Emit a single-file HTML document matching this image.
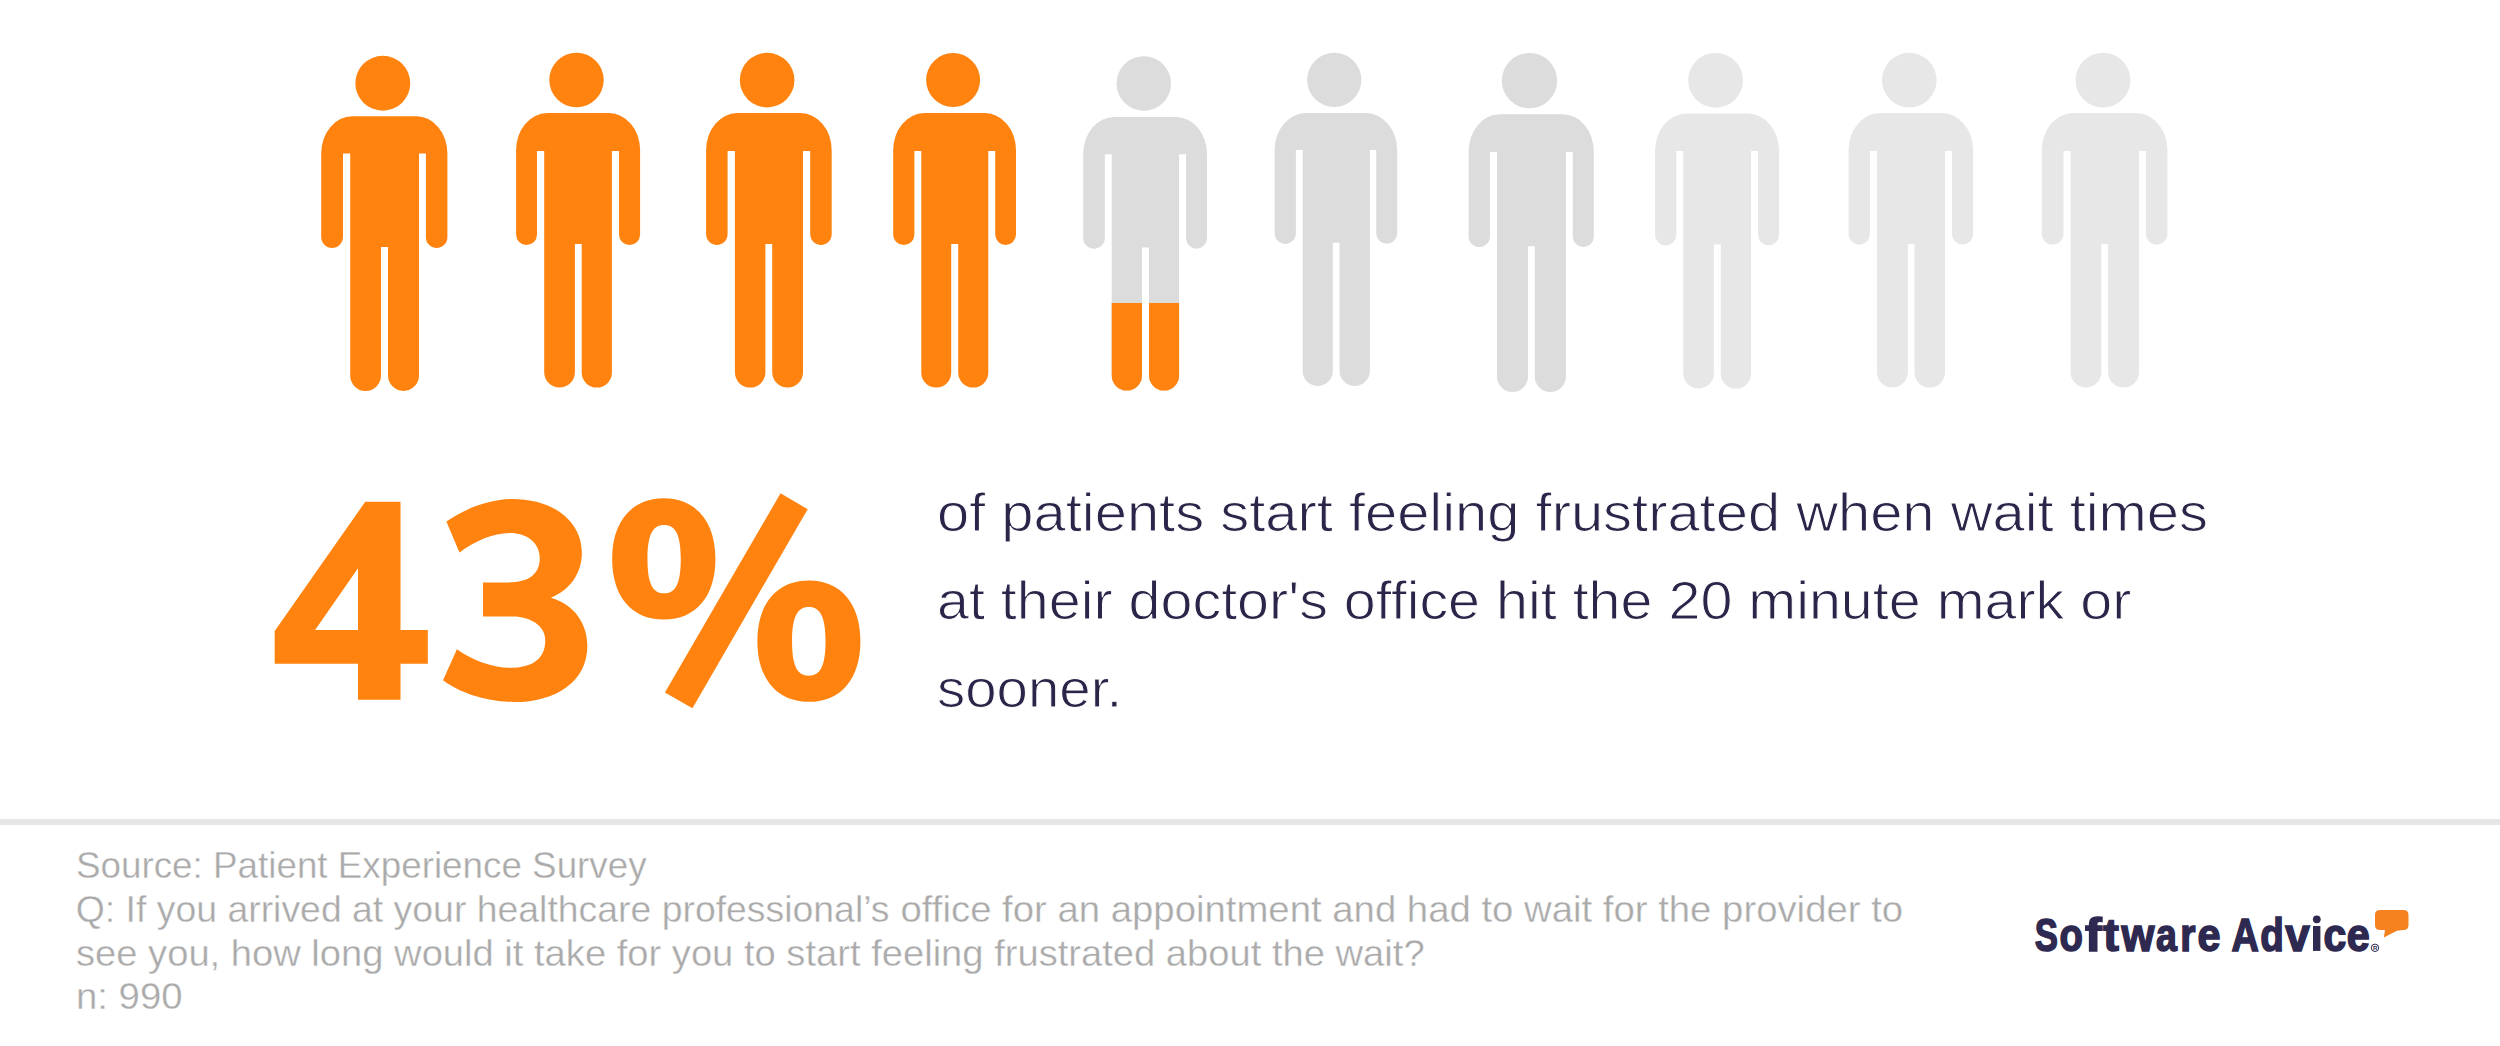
<!DOCTYPE html>
<html><head><meta charset="utf-8"><title>43% of patients</title>
<style>
html,body{margin:0;padding:0;background:#fff;width:2500px;height:1046px;overflow:hidden}
svg{display:block;position:absolute;left:0;top:0}
.m{font-family:"Liberation Sans",sans-serif;font-size:54.5px;fill:#2a2549;stroke:#fff;stroke-width:1px}
.s{font-family:"Liberation Sans",sans-serif;font-size:37.2px;fill:#aaaaaa;stroke:#fff;stroke-width:0.35px}
.logo{font-family:"Liberation Sans",sans-serif;font-weight:bold;font-size:46px;fill:#2d2950;stroke:#2d2950;stroke-width:1.6px}
</style></head><body>
<svg width="2500" height="1046" viewBox="0 0 2500 1046">
<defs><clipPath id="legclip"><rect x="1000" y="303.1" width="300" height="200"/></clipPath></defs>
<g fill="#ff830e"><circle cx="382.8" cy="83.25" r="27.42"/><path d="M321.2,153.3A31,37 0 0 1 352.2,116.3L416.4,116.3A31,37 0 0 1 447.4,153.3L447.4,237.15A10.75,10.75 0 0 1 425.9,237.15L425.9,153.5L419,153.5L419,375.4A15.5,15.5 0 0 1 388,375.4L388,246.9L381,246.9L381,375.5A15.4,15.4 0 0 1 350.2,375.5L350.2,153.5L343,153.5L343,237A10.9,10.9 0 0 1 321.2,237Z"/></g><g fill="#ff830e"><circle cx="576.5" cy="80" r="27.2"/><path d="M516.1,150.1A31,37 0 0 1 547.1,113.1L609.1,113.1A31,37 0 0 1 640.1,150.1L640.1,234.45A10.55,10.55 0 0 1 619,234.45L619,150.9L611.9,150.9L611.9,372.5A15.1,15.1 0 0 1 581.7,372.5L581.7,244L574.9,244L574.9,372.25A15.35,15.35 0 0 1 544.2,372.25L544.2,150.9L537,150.9L537,234.55A10.45,10.45 0 0 1 516.1,234.55Z"/></g><g fill="#ff830e"><circle cx="767.15" cy="80.15" r="27.3"/><path d="M706.1,150.1A31,37 0 0 1 737.1,113.1L800.7,113.1A31,37 0 0 1 831.7,150.1L831.7,234.25A10.75,10.75 0 0 1 810.2,234.25L810.2,150.9L803,150.9L803,372.2A15.4,15.4 0 0 1 772.2,372.2L772.2,244L765.4,244L765.4,372.35A15.25,15.25 0 0 1 734.9,372.35L734.9,150.9L727.6,150.9L727.6,234.25A10.75,10.75 0 0 1 706.1,234.25Z"/></g><g fill="#ff830e"><circle cx="953.1" cy="80" r="27"/><path d="M893.2,150.1A31,37 0 0 1 924.2,113.1L985,113.1A31,37 0 0 1 1016,150.1L1016,234.6A10.4,10.4 0 0 1 995.2,234.6L995.2,150.9L988.3,150.9L988.3,372.55A15.05,15.05 0 0 1 958.2,372.55L958.2,244L951.2,244L951.2,372.65A14.95,14.95 0 0 1 921.3,372.65L921.3,150.9L914.4,150.9L914.4,234.4A10.6,10.6 0 0 1 893.2,234.4Z"/></g><g fill="#dcdcdc"><circle cx="1143.8" cy="83.5" r="27.25"/><path d="M1083.2,153.9A31,37 0 0 1 1114.2,116.9L1176,116.9A31,37 0 0 1 1207,153.9L1207,238.2A10.5,10.5 0 0 1 1186,238.2L1186,154.2L1179.1,154.2L1179.1,375.55A15.05,15.05 0 0 1 1149,375.55L1149,247.6L1142,247.6L1142,375.45A15.15,15.15 0 0 1 1111.7,375.45L1111.7,154.2L1104.8,154.2L1104.8,237.9A10.8,10.8 0 0 1 1083.2,237.9Z"/></g><path fill="#ff830e" clip-path="url(#legclip)" d="M1083.2,153.9A31,37 0 0 1 1114.2,116.9L1176,116.9A31,37 0 0 1 1207,153.9L1207,238.2A10.5,10.5 0 0 1 1186,238.2L1186,154.2L1179.1,154.2L1179.1,375.55A15.05,15.05 0 0 1 1149,375.55L1149,247.6L1142,247.6L1142,375.45A15.15,15.15 0 0 1 1111.7,375.45L1111.7,154.2L1104.8,154.2L1104.8,237.9A10.8,10.8 0 0 1 1083.2,237.9Z"/><g fill="#dcdcdc"><circle cx="1334.25" cy="79.85" r="27.1"/><path d="M1274.6,150.1A31,37 0 0 1 1305.6,113.1L1366.2,113.1A31,37 0 0 1 1397.2,150.1L1397.2,233.3A10.5,10.5 0 0 1 1376.2,233.3L1376.2,150L1369.9,150L1369.9,370.8A15.2,15.2 0 0 1 1339.5,370.8L1339.5,242.8L1332.8,242.8L1332.8,370.95A15.05,15.05 0 0 1 1302.7,370.95L1302.7,150L1295.9,150L1295.9,233.15A10.65,10.65 0 0 1 1274.6,233.15Z"/></g><g fill="#dcdcdc"><circle cx="1529.5" cy="80.65" r="27.67"/><path d="M1468.6,151.3A31,37 0 0 1 1499.6,114.3L1562.8,114.3A31,37 0 0 1 1593.8,151.3L1593.8,236.6A10.5,10.5 0 0 1 1572.8,236.6L1572.8,151.9L1565.9,151.9L1565.9,376.45A15.55,15.55 0 0 1 1534.8,376.45L1534.8,246.3L1528,246.3L1528,376.5A15.5,15.5 0 0 1 1497,376.5L1497,151.9L1489.9,151.9L1489.9,236.45A10.65,10.65 0 0 1 1468.6,236.45Z"/></g><g fill="#e7e7e7"><circle cx="1715.6" cy="80.3" r="27.4"/><path d="M1655.1,150.6A31,37 0 0 1 1686.1,113.6L1748.1,113.6A31,37 0 0 1 1779.1,150.6L1779.1,234.85A10.55,10.55 0 0 1 1758,234.85L1758,150.9L1751.1,150.9L1751.1,373.45A15.15,15.15 0 0 1 1720.8,373.45L1720.8,244.6L1713.9,244.6L1713.9,373.25A15.35,15.35 0 0 1 1683.2,373.25L1683.2,150.9L1676.3,150.9L1676.3,234.8A10.6,10.6 0 0 1 1655.1,234.8Z"/></g><g fill="#e7e7e7"><circle cx="1909.3" cy="80.15" r="27.32"/><path d="M1848.6,150.1A31,37 0 0 1 1879.6,113.1L1942.1,113.1A31,37 0 0 1 1973.1,150.1L1973.1,234.05A10.55,10.55 0 0 1 1952,234.05L1952,150.9L1945,150.9L1945,372.35A15.25,15.25 0 0 1 1914.5,372.35L1914.5,244L1907.8,244L1907.8,372.2A15.4,15.4 0 0 1 1877,372.2L1877,150.9L1869.9,150.9L1869.9,233.95A10.65,10.65 0 0 1 1848.6,233.95Z"/></g><g fill="#e7e7e7"><circle cx="2103" cy="80.15" r="27.42"/><path d="M2041.8,150.1A31,37 0 0 1 2072.8,113.1L2136.4,113.1A31,37 0 0 1 2167.4,150.1L2167.4,233.85A10.75,10.75 0 0 1 2145.9,233.85L2145.9,150.9L2139,150.9L2139,372.15A15.45,15.45 0 0 1 2108.1,372.15L2108.1,244L2101.3,244L2101.3,372.25A15.35,15.35 0 0 1 2070.6,372.25L2070.6,150.9L2063.5,150.9L2063.5,233.75A10.85,10.85 0 0 1 2041.8,233.75Z"/></g>
<g fill="#ff830e">
<path fill-rule="evenodd" d="M365.2,501.8L400.5,501.8L400.5,629.9L427.8,629.9L427.8,663.7L400.5,663.7L400.5,699.7L358,699.7L358,663.7L274.7,663.7L274.7,630.9ZM358,568.2L358,629.9L315.1,629.9Z"/>
<path transform="translate(430,490) scale(0.210327)" d="M78,150C170,85 290,43 390,43C590,43 722,150 722,300C722,400 660,480 575,512C690,545 748,640 748,740C748,910 600,1008 400,1008C270,1008 140,965 62,905L128,757C200,810 300,845 380,845C490,845 548,800 548,715C548,645 475,602 395,602L252,602L252,440L370,440C470,440 522,400 522,325C522,250 460,205 380,205C300,205 210,245 140,297Z"/>
<path fill-rule="evenodd" transform="translate(600,480) scale(0.229446)" d="M787,58L905,127L403,995L283,926ZM53,344C53,180.32 138.5,80 278,80C417.5,80 503,180.32 503,344C503,507.68 417.5,608 278,608C138.5,608 53,507.68 53,344ZM207,345C207,240.7 228.75,196 279.5,196C330.25,196 352,240.7 352,345C352,449.3 330.25,494 279.5,494C228.75,494 207,449.3 207,345ZM686,702.5C686,538.51 771.31,438 910.5,438C1049.69,438 1135,538.51 1135,702.5C1135,866.49 1049.69,967 910.5,967C771.31,967 686,866.49 686,702.5ZM837,703C837,598 858.9,553 910,553C961.1,553 983,598 983,703C983,808 961.1,853 910,853C858.9,853 837,808 837,703Z"/>
</g>
<text class="m" x="937" y="531" textLength="1271" lengthAdjust="spacingAndGlyphs">of patients start feeling frustrated when wait times</text>
<text class="m" x="937" y="619" textLength="1194.3" lengthAdjust="spacingAndGlyphs">at their doctor's office hit the 20 minute mark or</text>
<text class="m" x="937" y="706.7" textLength="185.1" lengthAdjust="spacingAndGlyphs">sooner.</text>
<rect x="0" y="819" width="2500" height="6" fill="#e6e6e6"/>
<text class="s" x="76" y="878" textLength="570.6" lengthAdjust="spacingAndGlyphs">Source: Patient Experience Survey</text>
<text class="s" x="75.79" y="922" textLength="813.73" lengthAdjust="spacingAndGlyphs">Q: If you arrived at your healthcare professional’s</text>
<text class="s" x="900.56" y="922" textLength="1002.57" lengthAdjust="spacingAndGlyphs">office for an appointment and had to wait for the provider to</text>
<text class="s" x="76" y="966.4" textLength="1348.6" lengthAdjust="spacingAndGlyphs">see you, how long would it take for you to start feeling frustrated about the wait?</text>
<text class="s" x="76" y="1008.8" textLength="106.6" lengthAdjust="spacingAndGlyphs">n: 990</text>
<text class="logo" transform="translate(2034.76,951.2) scale(0.756,1)">S</text><text class="logo" transform="translate(2059.54,951.2) scale(0.833,1)">o</text><text class="logo" transform="translate(2084.98,951.2) scale(1.094,1)">f</text><text class="logo" transform="translate(2103.16,951.2) scale(1.019,1)">t</text><text class="logo" transform="translate(2121.57,951.2) scale(0.919,1)">w</text><text class="logo" transform="translate(2155.88,951.2) scale(0.816,1)">a</text><text class="logo" transform="translate(2180.35,951.2) scale(0.85,1)">r</text><text class="logo" transform="translate(2197.43,951.2) scale(0.899,1)">e</text><text class="logo" transform="translate(2231.47,951.2) scale(0.823,1)">A</text><text class="logo" transform="translate(2260.23,951.2) scale(0.839,1)">d</text><text class="logo" transform="translate(2285.2,951.2) scale(0.957,1)">v</text><text class="logo" transform="translate(2323.44,951.2) scale(0.889,1)">c</text><text class="logo" transform="translate(2346.63,951.2) scale(0.899,1)">e</text>
<rect x="2313" y="926" width="7.4" height="24.9" fill="#2d2950"/><circle cx="2316.8" cy="919.3" r="3.9" fill="#2d2950"/>
<circle cx="2375" cy="947.8" r="3.7" fill="none" stroke="#2d2950" stroke-width="1"/><text x="2373" y="950.3" style="font-family:'Liberation Sans',sans-serif;font-size:6px;font-weight:bold;fill:#2d2950">R</text>
<path fill="#f5821f" d="M2380,910L2403.5,910Q2408.5,910 2408.5,915L2408.5,925Q2408.5,930 2403.5,930L2397,930.8L2383.8,937.6L2385,930L2380,930Q2375,930 2375,925L2375,915Q2375,910 2380,910Z"/>
</svg>
</body></html>
